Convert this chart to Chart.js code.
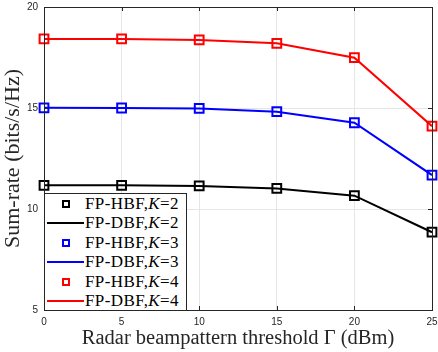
<!DOCTYPE html>
<html><head><meta charset="utf-8">
<script src="https://cdn.jsdelivr.net/npm/chart.js@4.4.1/dist/chart.umd.min.js"></script>
<style>
html,body{margin:0;padding:0;background:#fff;}
#wrap{position:relative;width:438px;height:352px;}
canvas{display:block;}
#legend{position:absolute;background:#fff;border:1px solid #262626;font-family:"Liberation Serif","DejaVu Serif",serif;font-size:17px;letter-spacing:0.4px;color:#000;box-sizing:border-box;}
.row{position:absolute;left:0;right:0;height:20px;}
.sym{position:absolute;}
.txt{position:absolute;white-space:nowrap;line-height:20px;top:0;}
</style>
</head><body>
<div id="wrap"><canvas id="c" width="438" height="352"></canvas><div id="legend"></div></div>
<script>
const thresholds = [0, 5, 10, 15, 20, 25];
const hbfK2 = [11.17, 11.17, 11.14, 11.02, 10.66, 8.85];
const dbfK2 = [11.17, 11.17, 11.14, 11.02, 10.66, 8.85];
const hbfK3 = [15.01, 15.00, 14.98, 14.82, 14.27, 11.68];
const dbfK3 = [15.01, 15.00, 14.98, 14.82, 14.27, 11.68];
const hbfK4 = [18.42, 18.42, 18.37, 18.20, 17.49, 14.10];
const dbfK4 = [18.42, 18.42, 18.37, 18.20, 17.49, 14.10];
const xTicks = [0, 5, 10, 15, 20, 25];
const yTicks = [5, 10, 15, 20];

const series = [
  {k: 2, color: '#000000', hbf: hbfK2, dbf: dbfK2},
  {k: 3, color: '#0000ff', hbf: hbfK3, dbf: dbfK3},
  {k: 4, color: '#ff0000', hbf: hbfK4, dbf: dbfK4}
];
const pts = arr => thresholds.map((x, i) => ({x: x, y: arr[i]}));
const datasets = [];
series.forEach(s => {
  datasets.push({label: 'FP-HBF,K=' + s.k, kind: 'marker', k: s.k, data: pts(s.hbf), showLine: false,
    borderColor: s.color, backgroundColor: 'rgba(0,0,0,0)', pointStyle: 'rect', pointRadius: 6.2,
    pointBorderWidth: 2, pointHoverRadius: 6.2, order: 0, clip: false});
  datasets.push({label: 'FP-DBF,K=' + s.k, kind: 'line', k: s.k, data: pts(s.dbf), showLine: true,
    borderColor: s.color, backgroundColor: s.color, borderWidth: 2, pointRadius: 0, pointHoverRadius: 0, order: 1});
});

const frame = {
  id: 'frame',
  afterDatasetsDraw(chart) {
    const {ctx, chartArea: a, scales} = chart;
    ctx.save();
    ctx.strokeStyle = '#262626';
    ctx.lineWidth = 1;
    ctx.beginPath();
    xTicks.forEach(v => {
      const p = Math.round(scales.x.getPixelForValue(v)) + 0.5;
      ctx.moveTo(p, a.bottom); ctx.lineTo(p, a.bottom - 4);
      ctx.moveTo(p, a.top); ctx.lineTo(p, a.top + 4);
    });
    yTicks.forEach(v => {
      const p = Math.round(scales.y.getPixelForValue(v)) + 0.5;
      ctx.moveTo(a.left, p); ctx.lineTo(a.left + 4, p);
      ctx.moveTo(a.right, p); ctx.lineTo(a.right - 4, p);
    });
    ctx.stroke();
    ctx.strokeRect(Math.round(a.left) + 0.5, Math.round(a.top) + 0.5, Math.round(a.right - a.left), Math.round(a.bottom - a.top));
    ctx.restore();
  }
};

const zeroPad = sc => { sc.paddingLeft = 0; sc.paddingRight = 0; sc.paddingTop = 0; sc.paddingBottom = 0; };

const chart = new Chart(document.getElementById('c'), {
  type: 'scatter',
  data: {datasets: datasets},
  options: {
    responsive: false, animation: false, devicePixelRatio: 1,
    layout: {autoPadding: false, padding: {top: 7, right: 6, left: 0, bottom: 0}},
    plugins: {legend: {display: false}, tooltip: {enabled: false}},
    elements: {line: {tension: 0}},
    scales: {
      x: {type: 'linear', min: 0, max: 25,
        afterBuildTicks: sc => { sc.ticks = xTicks.map(v => ({value: v})); },
        afterFit: sc => { sc.height = 42; zeroPad(sc); },
        grid: {color: '#e6e6e6', drawTicks: false, lineWidth: 1},
        border: {display: false},
        ticks: {padding: 6, color: '#262626', font: {family: 'Liberation Sans', size: 10}, maxRotation: 0},
        title: {display: true, text: 'Radar beampattern threshold Γ (dBm)', color: '#262626',
          font: {family: 'Liberation Serif', size: 20.5}, padding: {top: 0, bottom: 1}}
      },
      y: {type: 'linear', min: 5, max: 20,
        afterBuildTicks: sc => { sc.ticks = yTicks.map(v => ({value: v})); },
        afterFit: sc => { sc.width = 44; zeroPad(sc); },
        grid: {color: '#e6e6e6', drawTicks: false, lineWidth: 1},
        border: {display: false},
        ticks: {padding: 6, color: '#262626', font: {family: 'Liberation Sans', size: 10}},
        title: {display: true, text: 'Sum-rate (bits/s/Hz)', color: '#262626',
          font: {family: 'Liberation Serif', size: 22}, padding: {top: 0, bottom: 3}}
      }
    }
  },
  plugins: [frame]
});

// HTML legend built from dataset labels
(function buildLegend() {
  const a = chart.chartArea;
  const lg = document.getElementById('legend');
  lg.style.left = Math.round(a.left) + 'px';
  lg.style.top = '193px';
  lg.style.width = '143px';
  lg.style.height = (Math.round(a.bottom) - 193 + 1) + 'px';
  chart.data.datasets.forEach((ds, i) => {
    const row = document.createElement('div');
    row.className = 'row';
    row.style.top = (0 + i * 19.4) + 'px';
    const sym = document.createElement('div');
    sym.className = 'sym';
    if (ds.kind === 'marker') {
      sym.style.cssText = 'left:17px;top:6px;width:4px;height:4px;border:2px solid ' + ds.borderColor + ';';
    } else {
      sym.style.cssText = 'left:2px;top:9px;width:37px;height:2px;background:' + ds.borderColor + ';';
    }
    row.appendChild(sym);
    const txt = document.createElement('div');
    txt.className = 'txt';
    txt.style.left = '40px';
    const parts = ds.label.split('K=');
    txt.innerHTML = parts[0] + '<i>K</i>=' + parts[1];
    row.appendChild(txt);
    lg.appendChild(row);
  });
})();
</script>
</body></html>
